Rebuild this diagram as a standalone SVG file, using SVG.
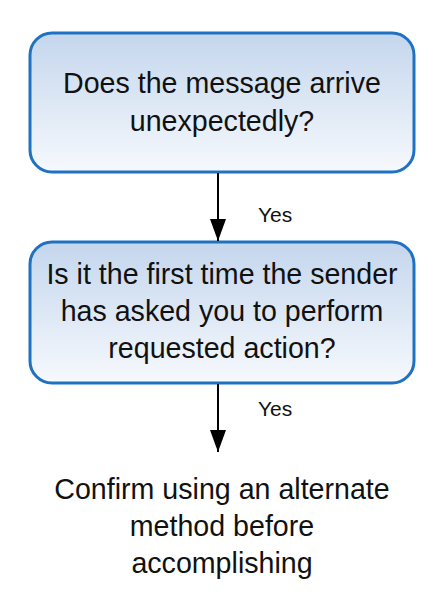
<svg xmlns="http://www.w3.org/2000/svg" width="442" height="592" viewBox="0 0 442 592">
<style>
.box{stroke:#1f72c2;stroke-width:3;fill:url(#g)}
.t{font-family:"Liberation Sans",Arial,sans-serif;font-size:28.6px;fill:#111;text-anchor:middle}
.lbl{font-family:"Liberation Sans",Arial,sans-serif;font-size:21px;fill:#111}
.c{stroke:#000;stroke-width:2;fill:none}
</style>
<defs>
<linearGradient id="g" x1="0" y1="0" x2="0" y2="1">
<stop offset="0" stop-color="#c4d6ed"/>
<stop offset="1" stop-color="#f6f9fd"/>
</linearGradient>
<marker id="ah" markerWidth="22" markerHeight="16" refX="22" refY="8" orient="auto" markerUnits="userSpaceOnUse" viewBox="0 0 22 16">
<path d="M0,0 L22,8 L0,16 Z" fill="#000"/>
</marker>
</defs>
<rect width="442" height="592" fill="#fff"/>
<g id="n1">
<rect class="box" x="30" y="33" width="384" height="139" rx="22" ry="22"/>
<text class="t" x="222" y="93">Does the message arrive</text>
<text class="t" x="222" y="131">unexpectedly?</text>
</g>
<g id="n2">
<rect class="box" x="30" y="242" width="384" height="141" rx="22" ry="22"/>
<text class="t" x="222" y="284">Is it the first time the sender</text>
<text class="t" x="222" y="321">has asked you to perform</text>
<text class="t" x="222" y="358">requested action?</text>
</g>
<g id="n3">
<text class="t" x="222" y="499">Confirm using an alternate</text>
<text class="t" x="222" y="536">method before</text>
<text class="t" x="222" y="573">accomplishing</text>
</g>
<g id="connectors">
<path class="c" d="M218,173 L218,241" marker-end="url(#ah)"/>
<text class="lbl" x="258" y="222">Yes</text>
<path class="c" d="M218,384 L218,452" marker-end="url(#ah)"/>
<text class="lbl" x="258" y="416">Yes</text>
</g>
</svg>
